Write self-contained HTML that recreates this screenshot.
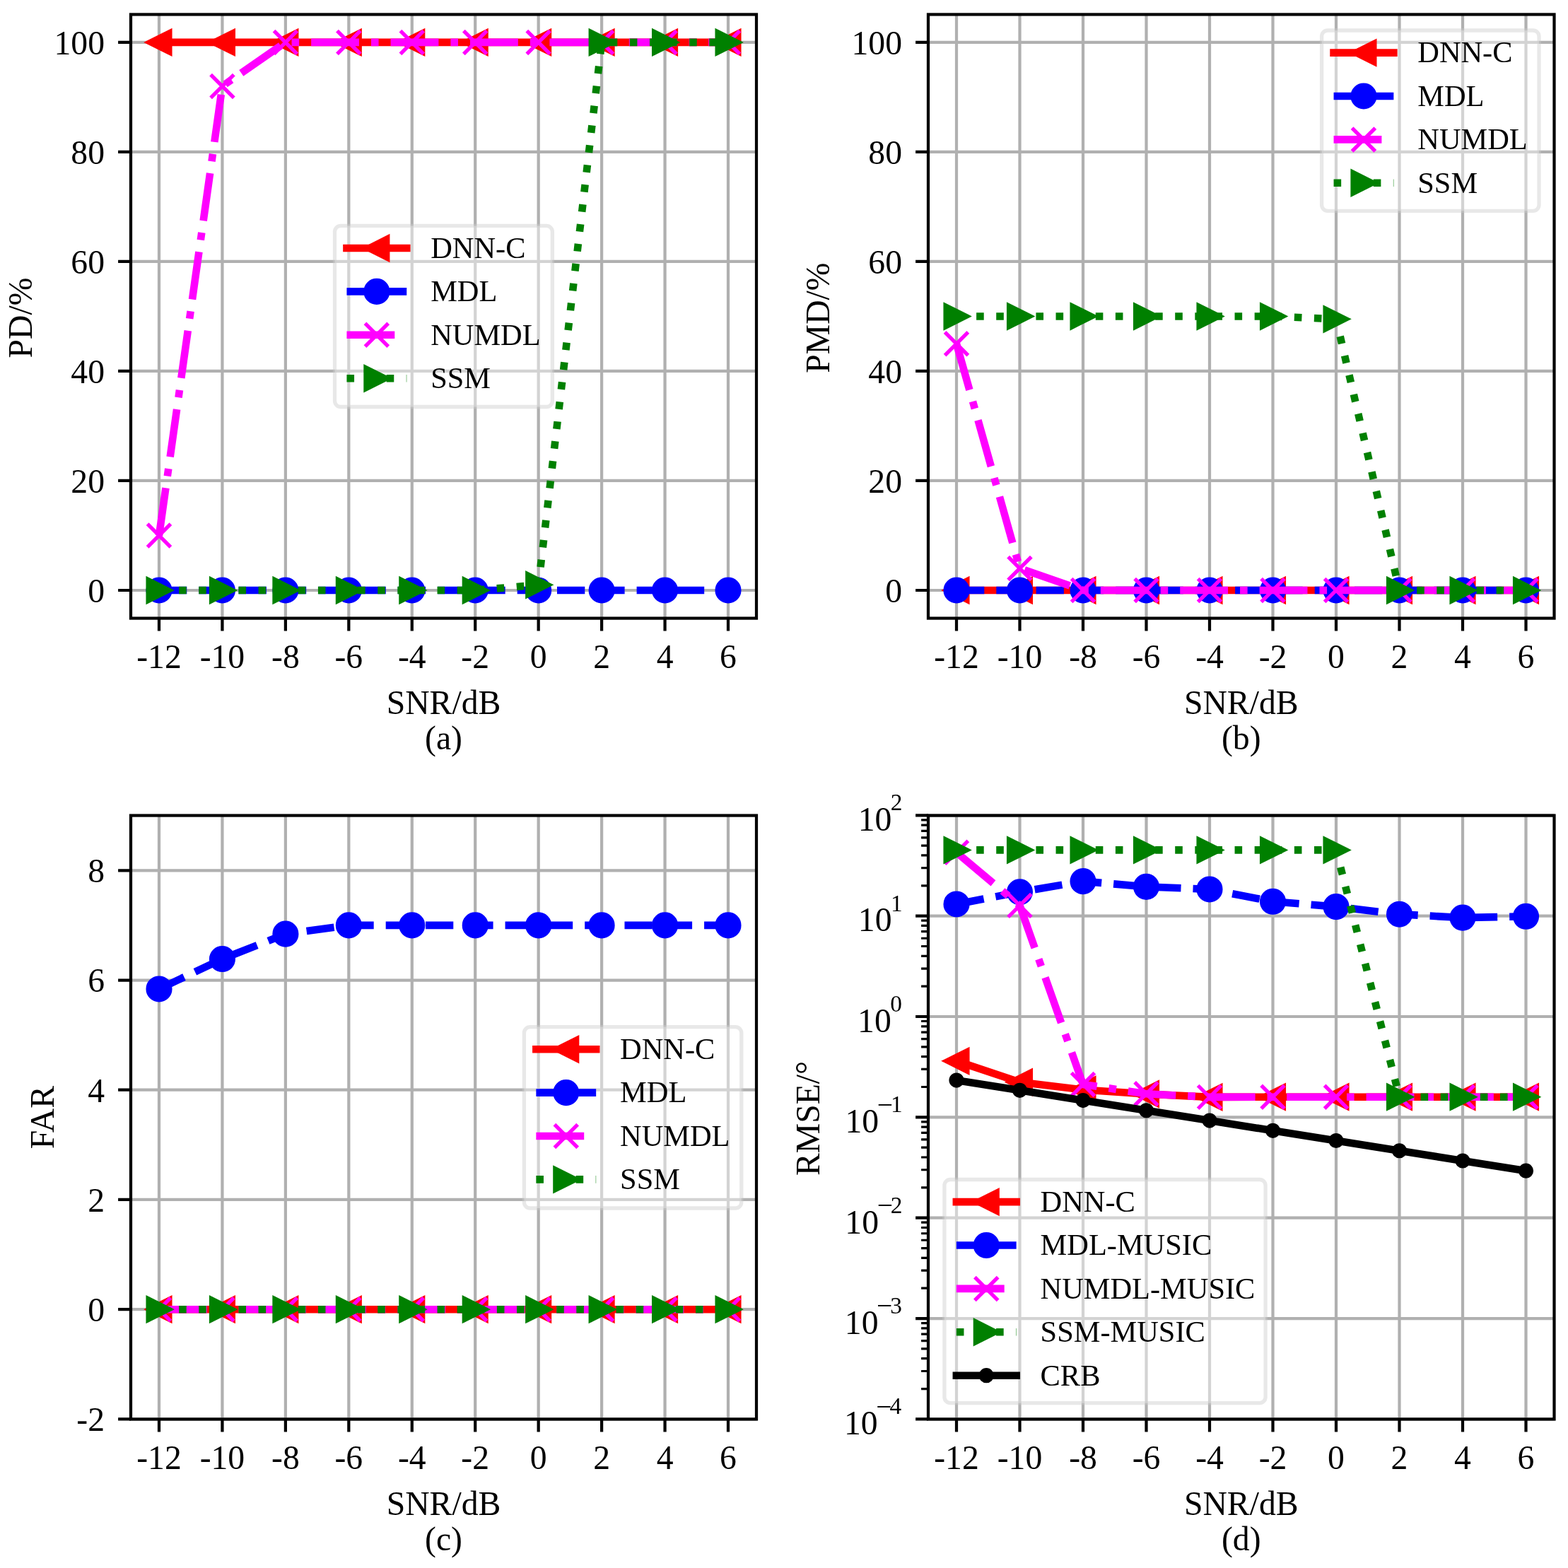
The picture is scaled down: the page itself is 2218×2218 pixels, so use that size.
<!DOCTYPE html>
<html><head><meta charset="utf-8"><title>Figure</title>
<style>html,body{margin:0;padding:0;background:#fff;}svg{display:block;}</style>
</head><body>
<svg width="2218" height="2218" viewBox="0 0 2218 2218" font-family='"Liberation Serif", "Times New Roman", serif'>
<rect width="2218" height="2218" fill="#fff"/>
<clipPath id="ca"><rect x="185" y="20.45" width="885" height="854.1"/></clipPath>
<path d="M225 20.45V874.55M314.44 20.45V874.55M403.89 20.45V874.55M493.33 20.45V874.55M582.78 20.45V874.55M672.22 20.45V874.55M761.67 20.45V874.55M851.11 20.45V874.55M940.56 20.45V874.55M1030 20.45V874.55M185 835H1070M185 679.98H1070M185 524.96H1070M185 369.94H1070M185 214.92H1070M185 59.9H1070" stroke="#b0b0b0" stroke-width="4.24" fill="none"/>
<path d="M225 874.55v17.9M314.44 874.55v17.9M403.89 874.55v17.9M493.33 874.55v17.9M582.78 874.55v17.9M672.22 874.55v17.9M761.67 874.55v17.9M851.11 874.55v17.9M940.56 874.55v17.9M1030 874.55v17.9M185 835h-17.9M185 679.98h-17.9M185 524.96h-17.9M185 369.94h-17.9M185 214.92h-17.9M185 59.9h-17.9" stroke="#000" stroke-width="4.24" fill="none"/>
<polyline points="225,59.9 314.44,59.9 403.89,59.9 493.33,59.9 582.78,59.9 672.22,59.9 761.67,59.9 851.11,59.9 940.56,59.9 1030,59.9" fill="none" stroke="#ff0000" stroke-width="10.6" stroke-linejoin="round" stroke-linecap="square" clip-path="url(#ca)"/>
<g clip-path="url(#ca)">
<polygon points="209.1,59.9 240.9,44 240.9,75.8" fill="#ff0000" stroke="#ff0000" stroke-width="5.3" stroke-linejoin="miter" stroke-miterlimit="10"/>
<polygon points="298.54,59.9 330.34,44 330.34,75.8" fill="#ff0000" stroke="#ff0000" stroke-width="5.3" stroke-linejoin="miter" stroke-miterlimit="10"/>
<polygon points="387.99,59.9 419.79,44 419.79,75.8" fill="#ff0000" stroke="#ff0000" stroke-width="5.3" stroke-linejoin="miter" stroke-miterlimit="10"/>
<polygon points="477.43,59.9 509.23,44 509.23,75.8" fill="#ff0000" stroke="#ff0000" stroke-width="5.3" stroke-linejoin="miter" stroke-miterlimit="10"/>
<polygon points="566.88,59.9 598.68,44 598.68,75.8" fill="#ff0000" stroke="#ff0000" stroke-width="5.3" stroke-linejoin="miter" stroke-miterlimit="10"/>
<polygon points="656.32,59.9 688.12,44 688.12,75.8" fill="#ff0000" stroke="#ff0000" stroke-width="5.3" stroke-linejoin="miter" stroke-miterlimit="10"/>
<polygon points="745.77,59.9 777.57,44 777.57,75.8" fill="#ff0000" stroke="#ff0000" stroke-width="5.3" stroke-linejoin="miter" stroke-miterlimit="10"/>
<polygon points="835.21,59.9 867.01,44 867.01,75.8" fill="#ff0000" stroke="#ff0000" stroke-width="5.3" stroke-linejoin="miter" stroke-miterlimit="10"/>
<polygon points="924.66,59.9 956.46,44 956.46,75.8" fill="#ff0000" stroke="#ff0000" stroke-width="5.3" stroke-linejoin="miter" stroke-miterlimit="10"/>
<polygon points="1014.1,59.9 1045.9,44 1045.9,75.8" fill="#ff0000" stroke="#ff0000" stroke-width="5.3" stroke-linejoin="miter" stroke-miterlimit="10"/>
</g>
<polyline points="225,835 314.44,835 403.89,835 493.33,835 582.78,835 672.22,835 761.67,835 851.11,835 940.56,835 1030,835" fill="none" stroke="#0000ff" stroke-width="10.6" stroke-linejoin="round" stroke-linecap="butt" stroke-dasharray="39.3,17" clip-path="url(#ca)"/>
<g clip-path="url(#ca)">
<circle cx="225" cy="835" r="15.9" fill="#0000ff" stroke="#0000ff" stroke-width="5.3"/>
<circle cx="314.44" cy="835" r="15.9" fill="#0000ff" stroke="#0000ff" stroke-width="5.3"/>
<circle cx="403.89" cy="835" r="15.9" fill="#0000ff" stroke="#0000ff" stroke-width="5.3"/>
<circle cx="493.33" cy="835" r="15.9" fill="#0000ff" stroke="#0000ff" stroke-width="5.3"/>
<circle cx="582.78" cy="835" r="15.9" fill="#0000ff" stroke="#0000ff" stroke-width="5.3"/>
<circle cx="672.22" cy="835" r="15.9" fill="#0000ff" stroke="#0000ff" stroke-width="5.3"/>
<circle cx="761.67" cy="835" r="15.9" fill="#0000ff" stroke="#0000ff" stroke-width="5.3"/>
<circle cx="851.11" cy="835" r="15.9" fill="#0000ff" stroke="#0000ff" stroke-width="5.3"/>
<circle cx="940.56" cy="835" r="15.9" fill="#0000ff" stroke="#0000ff" stroke-width="5.3"/>
<circle cx="1030" cy="835" r="15.9" fill="#0000ff" stroke="#0000ff" stroke-width="5.3"/>
</g>
<polyline points="225,757.49 314.44,121.91 403.89,59.9 493.33,59.9 582.78,59.9 672.22,59.9 761.67,59.9 851.11,59.9 940.56,59.9 1030,59.9" fill="none" stroke="#ff00ff" stroke-width="10.6" stroke-linejoin="round" stroke-linecap="butt" stroke-dasharray="67.84,16.99,10.6,16.99" clip-path="url(#ca)"/>
<g clip-path="url(#ca)">
<path d="M208.62 741.11L241.38 773.87M208.62 773.87L241.38 741.11" stroke="#ff00ff" stroke-width="5.3" stroke-linecap="butt" fill="none"/>
<path d="M298.07 105.53L330.82 138.29M298.07 138.29L330.82 105.53" stroke="#ff00ff" stroke-width="5.3" stroke-linecap="butt" fill="none"/>
<path d="M387.51 43.52L420.27 76.28M387.51 76.28L420.27 43.52" stroke="#ff00ff" stroke-width="5.3" stroke-linecap="butt" fill="none"/>
<path d="M476.96 43.52L509.71 76.28M476.96 76.28L509.71 43.52" stroke="#ff00ff" stroke-width="5.3" stroke-linecap="butt" fill="none"/>
<path d="M566.4 43.52L599.15 76.28M566.4 76.28L599.15 43.52" stroke="#ff00ff" stroke-width="5.3" stroke-linecap="butt" fill="none"/>
<path d="M655.85 43.52L688.6 76.28M655.85 76.28L688.6 43.52" stroke="#ff00ff" stroke-width="5.3" stroke-linecap="butt" fill="none"/>
<path d="M745.29 43.52L778.04 76.28M745.29 76.28L778.04 43.52" stroke="#ff00ff" stroke-width="5.3" stroke-linecap="butt" fill="none"/>
<path d="M834.73 43.52L867.49 76.28M834.73 76.28L867.49 43.52" stroke="#ff00ff" stroke-width="5.3" stroke-linecap="butt" fill="none"/>
<path d="M924.18 43.52L956.93 76.28M924.18 76.28L956.93 43.52" stroke="#ff00ff" stroke-width="5.3" stroke-linecap="butt" fill="none"/>
<path d="M1013.62 43.52L1046.38 76.28M1013.62 76.28L1046.38 43.52" stroke="#ff00ff" stroke-width="5.3" stroke-linecap="butt" fill="none"/>
</g>
<polyline points="225,835 314.44,835 403.89,835 493.33,835 582.78,835 672.22,835 761.67,827.25 851.11,59.9 940.56,59.9 1030,59.9" fill="none" stroke="#008000" stroke-width="10.6" stroke-linejoin="round" stroke-linecap="butt" stroke-dasharray="10.6,17.51" clip-path="url(#ca)"/>
<g clip-path="url(#ca)">
<polygon points="240.9,835 209.1,819.1 209.1,850.9" fill="#008000" stroke="#008000" stroke-width="5.3" stroke-linejoin="miter" stroke-miterlimit="10"/>
<polygon points="330.34,835 298.54,819.1 298.54,850.9" fill="#008000" stroke="#008000" stroke-width="5.3" stroke-linejoin="miter" stroke-miterlimit="10"/>
<polygon points="419.79,835 387.99,819.1 387.99,850.9" fill="#008000" stroke="#008000" stroke-width="5.3" stroke-linejoin="miter" stroke-miterlimit="10"/>
<polygon points="509.23,835 477.43,819.1 477.43,850.9" fill="#008000" stroke="#008000" stroke-width="5.3" stroke-linejoin="miter" stroke-miterlimit="10"/>
<polygon points="598.68,835 566.88,819.1 566.88,850.9" fill="#008000" stroke="#008000" stroke-width="5.3" stroke-linejoin="miter" stroke-miterlimit="10"/>
<polygon points="688.12,835 656.32,819.1 656.32,850.9" fill="#008000" stroke="#008000" stroke-width="5.3" stroke-linejoin="miter" stroke-miterlimit="10"/>
<polygon points="777.57,827.25 745.77,811.35 745.77,843.15" fill="#008000" stroke="#008000" stroke-width="5.3" stroke-linejoin="miter" stroke-miterlimit="10"/>
<polygon points="867.01,59.9 835.21,44 835.21,75.8" fill="#008000" stroke="#008000" stroke-width="5.3" stroke-linejoin="miter" stroke-miterlimit="10"/>
<polygon points="956.46,59.9 924.66,44 924.66,75.8" fill="#008000" stroke="#008000" stroke-width="5.3" stroke-linejoin="miter" stroke-miterlimit="10"/>
<polygon points="1045.9,59.9 1014.1,44 1014.1,75.8" fill="#008000" stroke="#008000" stroke-width="5.3" stroke-linejoin="miter" stroke-miterlimit="10"/>
</g>
<rect x="185" y="20.45" width="885" height="854.1" fill="none" stroke="#000" stroke-width="4.24" stroke-linejoin="miter"/>
<text x="225" y="945.15" font-size="47.7" text-anchor="middle">-12</text>
<text x="314.44" y="945.15" font-size="47.7" text-anchor="middle">-10</text>
<text x="403.89" y="945.15" font-size="47.7" text-anchor="middle">-8</text>
<text x="493.33" y="945.15" font-size="47.7" text-anchor="middle">-6</text>
<text x="582.78" y="945.15" font-size="47.7" text-anchor="middle">-4</text>
<text x="672.22" y="945.15" font-size="47.7" text-anchor="middle">-2</text>
<text x="761.67" y="945.15" font-size="47.7" text-anchor="middle">0</text>
<text x="851.11" y="945.15" font-size="47.7" text-anchor="middle">2</text>
<text x="940.56" y="945.15" font-size="47.7" text-anchor="middle">4</text>
<text x="1030" y="945.15" font-size="47.7" text-anchor="middle">6</text>
<text x="148" y="851.9" font-size="47.7" text-anchor="end">0</text>
<text x="148" y="696.88" font-size="47.7" text-anchor="end">20</text>
<text x="148" y="541.86" font-size="47.7" text-anchor="end">40</text>
<text x="148" y="386.84" font-size="47.7" text-anchor="end">60</text>
<text x="148" y="231.82" font-size="47.7" text-anchor="end">80</text>
<text x="148" y="76.8" font-size="47.7" text-anchor="end">100</text>
<text x="627.5" y="1010.25" font-size="47.7" text-anchor="middle">SNR/dB</text>
<text x="627.5" y="1059.85" font-size="47.7" text-anchor="middle">(a)</text>
<text x="45.1" y="449.6" font-size="47.7" text-anchor="middle" transform="rotate(-90 45.1 449.6)">PD/%</text>
<rect x="473.5" y="319.4" width="307.9" height="256.1" rx="8.48" ry="8.48" fill="#fff" fill-opacity="0.45" stroke="#ccc" stroke-opacity="0.45" stroke-width="5.3"/>
<polyline points="490.46,351 575.26,351" fill="none" stroke="#ff0000" stroke-width="10.6" stroke-linejoin="round" stroke-linecap="square"/>
<polygon points="516.96,351 548.76,335.1 548.76,366.9" fill="#ff0000" stroke="#ff0000" stroke-width="5.3" stroke-linejoin="miter" stroke-miterlimit="10"/>
<text x="609.18" y="364.8" font-size="42.4" text-anchor="start">DNN-C</text>
<polyline points="490.46,412.4 575.26,412.4" fill="none" stroke="#0000ff" stroke-width="10.6" stroke-linejoin="round" stroke-linecap="butt" stroke-dasharray="39.3,17"/>
<circle cx="532.86" cy="412.4" r="15.9" fill="#0000ff" stroke="#0000ff" stroke-width="5.3"/>
<text x="609.18" y="426.2" font-size="42.4" text-anchor="start">MDL</text>
<polyline points="490.46,473.8 575.26,473.8" fill="none" stroke="#ff00ff" stroke-width="10.6" stroke-linejoin="round" stroke-linecap="butt" stroke-dasharray="67.84,16.99,10.6,16.99"/>
<path d="M516.48 457.42L549.24 490.18M516.48 490.18L549.24 457.42" stroke="#ff00ff" stroke-width="5.3" stroke-linecap="butt" fill="none"/>
<text x="609.18" y="487.6" font-size="42.4" text-anchor="start">NUMDL</text>
<polyline points="490.46,535.2 575.26,535.2" fill="none" stroke="#008000" stroke-width="10.6" stroke-linejoin="round" stroke-linecap="butt" stroke-dasharray="10.6,17.51"/>
<polygon points="548.76,535.2 516.96,519.3 516.96,551.1" fill="#008000" stroke="#008000" stroke-width="5.3" stroke-linejoin="miter" stroke-miterlimit="10"/>
<text x="609.18" y="549" font-size="42.4" text-anchor="start">SSM</text>
<clipPath id="cb"><rect x="1313" y="20.45" width="885.5" height="854.1"/></clipPath>
<path d="M1353 20.45V874.55M1442.5 20.45V874.55M1532 20.45V874.55M1621.5 20.45V874.55M1711 20.45V874.55M1800.5 20.45V874.55M1890 20.45V874.55M1979.5 20.45V874.55M2069 20.45V874.55M2158.5 20.45V874.55M1313 835H2198.5M1313 679.98H2198.5M1313 524.96H2198.5M1313 369.94H2198.5M1313 214.92H2198.5M1313 59.9H2198.5" stroke="#b0b0b0" stroke-width="4.24" fill="none"/>
<path d="M1353 874.55v17.9M1442.5 874.55v17.9M1532 874.55v17.9M1621.5 874.55v17.9M1711 874.55v17.9M1800.5 874.55v17.9M1890 874.55v17.9M1979.5 874.55v17.9M2069 874.55v17.9M2158.5 874.55v17.9M1313 835h-17.9M1313 679.98h-17.9M1313 524.96h-17.9M1313 369.94h-17.9M1313 214.92h-17.9M1313 59.9h-17.9" stroke="#000" stroke-width="4.24" fill="none"/>
<polyline points="1353,835 1442.5,835 1532,835 1621.5,835 1711,835 1800.5,835 1890,835 1979.5,835 2069,835 2158.5,835" fill="none" stroke="#ff0000" stroke-width="10.6" stroke-linejoin="round" stroke-linecap="square" clip-path="url(#cb)"/>
<g clip-path="url(#cb)">
<polygon points="1337.1,835 1368.9,819.1 1368.9,850.9" fill="#ff0000" stroke="#ff0000" stroke-width="5.3" stroke-linejoin="miter" stroke-miterlimit="10"/>
<polygon points="1426.6,835 1458.4,819.1 1458.4,850.9" fill="#ff0000" stroke="#ff0000" stroke-width="5.3" stroke-linejoin="miter" stroke-miterlimit="10"/>
<polygon points="1516.1,835 1547.9,819.1 1547.9,850.9" fill="#ff0000" stroke="#ff0000" stroke-width="5.3" stroke-linejoin="miter" stroke-miterlimit="10"/>
<polygon points="1605.6,835 1637.4,819.1 1637.4,850.9" fill="#ff0000" stroke="#ff0000" stroke-width="5.3" stroke-linejoin="miter" stroke-miterlimit="10"/>
<polygon points="1695.1,835 1726.9,819.1 1726.9,850.9" fill="#ff0000" stroke="#ff0000" stroke-width="5.3" stroke-linejoin="miter" stroke-miterlimit="10"/>
<polygon points="1784.6,835 1816.4,819.1 1816.4,850.9" fill="#ff0000" stroke="#ff0000" stroke-width="5.3" stroke-linejoin="miter" stroke-miterlimit="10"/>
<polygon points="1874.1,835 1905.9,819.1 1905.9,850.9" fill="#ff0000" stroke="#ff0000" stroke-width="5.3" stroke-linejoin="miter" stroke-miterlimit="10"/>
<polygon points="1963.6,835 1995.4,819.1 1995.4,850.9" fill="#ff0000" stroke="#ff0000" stroke-width="5.3" stroke-linejoin="miter" stroke-miterlimit="10"/>
<polygon points="2053.1,835 2084.9,819.1 2084.9,850.9" fill="#ff0000" stroke="#ff0000" stroke-width="5.3" stroke-linejoin="miter" stroke-miterlimit="10"/>
<polygon points="2142.6,835 2174.4,819.1 2174.4,850.9" fill="#ff0000" stroke="#ff0000" stroke-width="5.3" stroke-linejoin="miter" stroke-miterlimit="10"/>
</g>
<polyline points="1353,835 1442.5,835 1532,835 1621.5,835 1711,835 1800.5,835 1890,835 1979.5,835 2069,835 2158.5,835" fill="none" stroke="#0000ff" stroke-width="10.6" stroke-linejoin="round" stroke-linecap="butt" stroke-dasharray="39.3,17" clip-path="url(#cb)"/>
<g clip-path="url(#cb)">
<circle cx="1353" cy="835" r="15.9" fill="#0000ff" stroke="#0000ff" stroke-width="5.3"/>
<circle cx="1442.5" cy="835" r="15.9" fill="#0000ff" stroke="#0000ff" stroke-width="5.3"/>
<circle cx="1532" cy="835" r="15.9" fill="#0000ff" stroke="#0000ff" stroke-width="5.3"/>
<circle cx="1621.5" cy="835" r="15.9" fill="#0000ff" stroke="#0000ff" stroke-width="5.3"/>
<circle cx="1711" cy="835" r="15.9" fill="#0000ff" stroke="#0000ff" stroke-width="5.3"/>
<circle cx="1800.5" cy="835" r="15.9" fill="#0000ff" stroke="#0000ff" stroke-width="5.3"/>
<circle cx="1890" cy="835" r="15.9" fill="#0000ff" stroke="#0000ff" stroke-width="5.3"/>
<circle cx="1979.5" cy="835" r="15.9" fill="#0000ff" stroke="#0000ff" stroke-width="5.3"/>
<circle cx="2069" cy="835" r="15.9" fill="#0000ff" stroke="#0000ff" stroke-width="5.3"/>
<circle cx="2158.5" cy="835" r="15.9" fill="#0000ff" stroke="#0000ff" stroke-width="5.3"/>
</g>
<polyline points="1353,486.2 1442.5,804 1532,835 1621.5,835 1711,835 1800.5,835 1890,835 1979.5,835 2069,835 2158.5,835" fill="none" stroke="#ff00ff" stroke-width="10.6" stroke-linejoin="round" stroke-linecap="butt" stroke-dasharray="67.84,16.99,10.6,16.99" clip-path="url(#cb)"/>
<g clip-path="url(#cb)">
<path d="M1336.62 469.83L1369.38 502.58M1336.62 502.58L1369.38 469.83" stroke="#ff00ff" stroke-width="5.3" stroke-linecap="butt" fill="none"/>
<path d="M1426.12 787.62L1458.88 820.37M1426.12 820.37L1458.88 787.62" stroke="#ff00ff" stroke-width="5.3" stroke-linecap="butt" fill="none"/>
<path d="M1515.62 818.62L1548.38 851.38M1515.62 851.38L1548.38 818.62" stroke="#ff00ff" stroke-width="5.3" stroke-linecap="butt" fill="none"/>
<path d="M1605.12 818.62L1637.88 851.38M1605.12 851.38L1637.88 818.62" stroke="#ff00ff" stroke-width="5.3" stroke-linecap="butt" fill="none"/>
<path d="M1694.62 818.62L1727.38 851.38M1694.62 851.38L1727.38 818.62" stroke="#ff00ff" stroke-width="5.3" stroke-linecap="butt" fill="none"/>
<path d="M1784.12 818.62L1816.88 851.38M1784.12 851.38L1816.88 818.62" stroke="#ff00ff" stroke-width="5.3" stroke-linecap="butt" fill="none"/>
<path d="M1873.62 818.62L1906.38 851.38M1873.62 851.38L1906.38 818.62" stroke="#ff00ff" stroke-width="5.3" stroke-linecap="butt" fill="none"/>
<path d="M1963.12 818.62L1995.88 851.38M1963.12 851.38L1995.88 818.62" stroke="#ff00ff" stroke-width="5.3" stroke-linecap="butt" fill="none"/>
<path d="M2052.62 818.62L2085.38 851.38M2052.62 851.38L2085.38 818.62" stroke="#ff00ff" stroke-width="5.3" stroke-linecap="butt" fill="none"/>
<path d="M2142.12 818.62L2174.88 851.38M2142.12 851.38L2174.88 818.62" stroke="#ff00ff" stroke-width="5.3" stroke-linecap="butt" fill="none"/>
</g>
<polyline points="1353,447.45 1442.5,447.45 1532,447.45 1621.5,447.45 1711,447.45 1800.5,447.45 1890,451.33 1979.5,835 2069,835 2158.5,835" fill="none" stroke="#008000" stroke-width="10.6" stroke-linejoin="round" stroke-linecap="butt" stroke-dasharray="10.6,17.51" clip-path="url(#cb)"/>
<g clip-path="url(#cb)">
<polygon points="1368.9,447.45 1337.1,431.55 1337.1,463.35" fill="#008000" stroke="#008000" stroke-width="5.3" stroke-linejoin="miter" stroke-miterlimit="10"/>
<polygon points="1458.4,447.45 1426.6,431.55 1426.6,463.35" fill="#008000" stroke="#008000" stroke-width="5.3" stroke-linejoin="miter" stroke-miterlimit="10"/>
<polygon points="1547.9,447.45 1516.1,431.55 1516.1,463.35" fill="#008000" stroke="#008000" stroke-width="5.3" stroke-linejoin="miter" stroke-miterlimit="10"/>
<polygon points="1637.4,447.45 1605.6,431.55 1605.6,463.35" fill="#008000" stroke="#008000" stroke-width="5.3" stroke-linejoin="miter" stroke-miterlimit="10"/>
<polygon points="1726.9,447.45 1695.1,431.55 1695.1,463.35" fill="#008000" stroke="#008000" stroke-width="5.3" stroke-linejoin="miter" stroke-miterlimit="10"/>
<polygon points="1816.4,447.45 1784.6,431.55 1784.6,463.35" fill="#008000" stroke="#008000" stroke-width="5.3" stroke-linejoin="miter" stroke-miterlimit="10"/>
<polygon points="1905.9,451.33 1874.1,435.43 1874.1,467.23" fill="#008000" stroke="#008000" stroke-width="5.3" stroke-linejoin="miter" stroke-miterlimit="10"/>
<polygon points="1995.4,835 1963.6,819.1 1963.6,850.9" fill="#008000" stroke="#008000" stroke-width="5.3" stroke-linejoin="miter" stroke-miterlimit="10"/>
<polygon points="2084.9,835 2053.1,819.1 2053.1,850.9" fill="#008000" stroke="#008000" stroke-width="5.3" stroke-linejoin="miter" stroke-miterlimit="10"/>
<polygon points="2174.4,835 2142.6,819.1 2142.6,850.9" fill="#008000" stroke="#008000" stroke-width="5.3" stroke-linejoin="miter" stroke-miterlimit="10"/>
</g>
<rect x="1313" y="20.45" width="885.5" height="854.1" fill="none" stroke="#000" stroke-width="4.24" stroke-linejoin="miter"/>
<text x="1353" y="945.15" font-size="47.7" text-anchor="middle">-12</text>
<text x="1442.5" y="945.15" font-size="47.7" text-anchor="middle">-10</text>
<text x="1532" y="945.15" font-size="47.7" text-anchor="middle">-8</text>
<text x="1621.5" y="945.15" font-size="47.7" text-anchor="middle">-6</text>
<text x="1711" y="945.15" font-size="47.7" text-anchor="middle">-4</text>
<text x="1800.5" y="945.15" font-size="47.7" text-anchor="middle">-2</text>
<text x="1890" y="945.15" font-size="47.7" text-anchor="middle">0</text>
<text x="1979.5" y="945.15" font-size="47.7" text-anchor="middle">2</text>
<text x="2069" y="945.15" font-size="47.7" text-anchor="middle">4</text>
<text x="2158.5" y="945.15" font-size="47.7" text-anchor="middle">6</text>
<text x="1276" y="851.9" font-size="47.7" text-anchor="end">0</text>
<text x="1276" y="696.88" font-size="47.7" text-anchor="end">20</text>
<text x="1276" y="541.86" font-size="47.7" text-anchor="end">40</text>
<text x="1276" y="386.84" font-size="47.7" text-anchor="end">60</text>
<text x="1276" y="231.82" font-size="47.7" text-anchor="end">80</text>
<text x="1276" y="76.8" font-size="47.7" text-anchor="end">100</text>
<text x="1755.75" y="1010.25" font-size="47.7" text-anchor="middle">SNR/dB</text>
<text x="1755.75" y="1059.85" font-size="47.7" text-anchor="middle">(b)</text>
<text x="1173.1" y="449.6" font-size="47.7" text-anchor="middle" transform="rotate(-90 1173.1 449.6)">PMD/%</text>
<rect x="1869.6" y="43" width="307.4" height="255.3" rx="8.48" ry="8.48" fill="#fff" fill-opacity="0.45" stroke="#ccc" stroke-opacity="0.45" stroke-width="5.3"/>
<polyline points="1886.56,74.6 1971.36,74.6" fill="none" stroke="#ff0000" stroke-width="10.6" stroke-linejoin="round" stroke-linecap="square"/>
<polygon points="1913.06,74.6 1944.86,58.7 1944.86,90.5" fill="#ff0000" stroke="#ff0000" stroke-width="5.3" stroke-linejoin="miter" stroke-miterlimit="10"/>
<text x="2005.28" y="88.4" font-size="42.4" text-anchor="start">DNN-C</text>
<polyline points="1886.56,136 1971.36,136" fill="none" stroke="#0000ff" stroke-width="10.6" stroke-linejoin="round" stroke-linecap="butt" stroke-dasharray="39.3,17"/>
<circle cx="1928.96" cy="136" r="15.9" fill="#0000ff" stroke="#0000ff" stroke-width="5.3"/>
<text x="2005.28" y="149.8" font-size="42.4" text-anchor="start">MDL</text>
<polyline points="1886.56,197.4 1971.36,197.4" fill="none" stroke="#ff00ff" stroke-width="10.6" stroke-linejoin="round" stroke-linecap="butt" stroke-dasharray="67.84,16.99,10.6,16.99"/>
<path d="M1912.58 181.02L1945.34 213.78M1912.58 213.78L1945.34 181.02" stroke="#ff00ff" stroke-width="5.3" stroke-linecap="butt" fill="none"/>
<text x="2005.28" y="211.2" font-size="42.4" text-anchor="start">NUMDL</text>
<polyline points="1886.56,258.8 1971.36,258.8" fill="none" stroke="#008000" stroke-width="10.6" stroke-linejoin="round" stroke-linecap="butt" stroke-dasharray="10.6,17.51"/>
<polygon points="1944.86,258.8 1913.06,242.9 1913.06,274.7" fill="#008000" stroke="#008000" stroke-width="5.3" stroke-linejoin="miter" stroke-miterlimit="10"/>
<text x="2005.28" y="272.6" font-size="42.4" text-anchor="start">SSM</text>
<clipPath id="cc"><rect x="185" y="1153.55" width="885" height="853.95"/></clipPath>
<path d="M225 1153.55V2007.5M314.44 1153.55V2007.5M403.89 1153.55V2007.5M493.33 1153.55V2007.5M582.78 1153.55V2007.5M672.22 1153.55V2007.5M761.67 1153.55V2007.5M851.11 1153.55V2007.5M940.56 1153.55V2007.5M1030 1153.55V2007.5M185 2007.4H1070M185 1852.18H1070M185 1696.96H1070M185 1541.74H1070M185 1386.52H1070M185 1231.3H1070" stroke="#b0b0b0" stroke-width="4.24" fill="none"/>
<path d="M225 2007.5v17.9M314.44 2007.5v17.9M403.89 2007.5v17.9M493.33 2007.5v17.9M582.78 2007.5v17.9M672.22 2007.5v17.9M761.67 2007.5v17.9M851.11 2007.5v17.9M940.56 2007.5v17.9M1030 2007.5v17.9M185 2007.4h-17.9M185 1852.18h-17.9M185 1696.96h-17.9M185 1541.74h-17.9M185 1386.52h-17.9M185 1231.3h-17.9" stroke="#000" stroke-width="4.24" fill="none"/>
<polyline points="225,1852.18 314.44,1852.18 403.89,1852.18 493.33,1852.18 582.78,1852.18 672.22,1852.18 761.67,1852.18 851.11,1852.18 940.56,1852.18 1030,1852.18" fill="none" stroke="#ff0000" stroke-width="10.6" stroke-linejoin="round" stroke-linecap="square" clip-path="url(#cc)"/>
<g clip-path="url(#cc)">
<polygon points="209.1,1852.18 240.9,1836.28 240.9,1868.08" fill="#ff0000" stroke="#ff0000" stroke-width="5.3" stroke-linejoin="miter" stroke-miterlimit="10"/>
<polygon points="298.54,1852.18 330.34,1836.28 330.34,1868.08" fill="#ff0000" stroke="#ff0000" stroke-width="5.3" stroke-linejoin="miter" stroke-miterlimit="10"/>
<polygon points="387.99,1852.18 419.79,1836.28 419.79,1868.08" fill="#ff0000" stroke="#ff0000" stroke-width="5.3" stroke-linejoin="miter" stroke-miterlimit="10"/>
<polygon points="477.43,1852.18 509.23,1836.28 509.23,1868.08" fill="#ff0000" stroke="#ff0000" stroke-width="5.3" stroke-linejoin="miter" stroke-miterlimit="10"/>
<polygon points="566.88,1852.18 598.68,1836.28 598.68,1868.08" fill="#ff0000" stroke="#ff0000" stroke-width="5.3" stroke-linejoin="miter" stroke-miterlimit="10"/>
<polygon points="656.32,1852.18 688.12,1836.28 688.12,1868.08" fill="#ff0000" stroke="#ff0000" stroke-width="5.3" stroke-linejoin="miter" stroke-miterlimit="10"/>
<polygon points="745.77,1852.18 777.57,1836.28 777.57,1868.08" fill="#ff0000" stroke="#ff0000" stroke-width="5.3" stroke-linejoin="miter" stroke-miterlimit="10"/>
<polygon points="835.21,1852.18 867.01,1836.28 867.01,1868.08" fill="#ff0000" stroke="#ff0000" stroke-width="5.3" stroke-linejoin="miter" stroke-miterlimit="10"/>
<polygon points="924.66,1852.18 956.46,1836.28 956.46,1868.08" fill="#ff0000" stroke="#ff0000" stroke-width="5.3" stroke-linejoin="miter" stroke-miterlimit="10"/>
<polygon points="1014.1,1852.18 1045.9,1836.28 1045.9,1868.08" fill="#ff0000" stroke="#ff0000" stroke-width="5.3" stroke-linejoin="miter" stroke-miterlimit="10"/>
</g>
<polyline points="225,1398.94 314.44,1356.56 403.89,1321.17 493.33,1308.91 582.78,1308.91 672.22,1308.91 761.67,1308.91 851.11,1308.91 940.56,1308.91 1030,1308.91" fill="none" stroke="#0000ff" stroke-width="10.6" stroke-linejoin="round" stroke-linecap="butt" stroke-dasharray="39.3,17" clip-path="url(#cc)"/>
<g clip-path="url(#cc)">
<circle cx="225" cy="1398.94" r="15.9" fill="#0000ff" stroke="#0000ff" stroke-width="5.3"/>
<circle cx="314.44" cy="1356.56" r="15.9" fill="#0000ff" stroke="#0000ff" stroke-width="5.3"/>
<circle cx="403.89" cy="1321.17" r="15.9" fill="#0000ff" stroke="#0000ff" stroke-width="5.3"/>
<circle cx="493.33" cy="1308.91" r="15.9" fill="#0000ff" stroke="#0000ff" stroke-width="5.3"/>
<circle cx="582.78" cy="1308.91" r="15.9" fill="#0000ff" stroke="#0000ff" stroke-width="5.3"/>
<circle cx="672.22" cy="1308.91" r="15.9" fill="#0000ff" stroke="#0000ff" stroke-width="5.3"/>
<circle cx="761.67" cy="1308.91" r="15.9" fill="#0000ff" stroke="#0000ff" stroke-width="5.3"/>
<circle cx="851.11" cy="1308.91" r="15.9" fill="#0000ff" stroke="#0000ff" stroke-width="5.3"/>
<circle cx="940.56" cy="1308.91" r="15.9" fill="#0000ff" stroke="#0000ff" stroke-width="5.3"/>
<circle cx="1030" cy="1308.91" r="15.9" fill="#0000ff" stroke="#0000ff" stroke-width="5.3"/>
</g>
<polyline points="225,1852.18 314.44,1852.18 403.89,1852.18 493.33,1852.18 582.78,1852.18 672.22,1852.18 761.67,1852.18 851.11,1852.18 940.56,1852.18 1030,1852.18" fill="none" stroke="#ff00ff" stroke-width="10.6" stroke-linejoin="round" stroke-linecap="butt" stroke-dasharray="67.84,16.99,10.6,16.99" clip-path="url(#cc)"/>
<g clip-path="url(#cc)">
<path d="M208.62 1835.8L241.38 1868.56M208.62 1868.56L241.38 1835.8" stroke="#ff00ff" stroke-width="5.3" stroke-linecap="butt" fill="none"/>
<path d="M298.07 1835.8L330.82 1868.56M298.07 1868.56L330.82 1835.8" stroke="#ff00ff" stroke-width="5.3" stroke-linecap="butt" fill="none"/>
<path d="M387.51 1835.8L420.27 1868.56M387.51 1868.56L420.27 1835.8" stroke="#ff00ff" stroke-width="5.3" stroke-linecap="butt" fill="none"/>
<path d="M476.96 1835.8L509.71 1868.56M476.96 1868.56L509.71 1835.8" stroke="#ff00ff" stroke-width="5.3" stroke-linecap="butt" fill="none"/>
<path d="M566.4 1835.8L599.15 1868.56M566.4 1868.56L599.15 1835.8" stroke="#ff00ff" stroke-width="5.3" stroke-linecap="butt" fill="none"/>
<path d="M655.85 1835.8L688.6 1868.56M655.85 1868.56L688.6 1835.8" stroke="#ff00ff" stroke-width="5.3" stroke-linecap="butt" fill="none"/>
<path d="M745.29 1835.8L778.04 1868.56M745.29 1868.56L778.04 1835.8" stroke="#ff00ff" stroke-width="5.3" stroke-linecap="butt" fill="none"/>
<path d="M834.73 1835.8L867.49 1868.56M834.73 1868.56L867.49 1835.8" stroke="#ff00ff" stroke-width="5.3" stroke-linecap="butt" fill="none"/>
<path d="M924.18 1835.8L956.93 1868.56M924.18 1868.56L956.93 1835.8" stroke="#ff00ff" stroke-width="5.3" stroke-linecap="butt" fill="none"/>
<path d="M1013.62 1835.8L1046.38 1868.56M1013.62 1868.56L1046.38 1835.8" stroke="#ff00ff" stroke-width="5.3" stroke-linecap="butt" fill="none"/>
</g>
<polyline points="225,1852.18 314.44,1852.18 403.89,1852.18 493.33,1852.18 582.78,1852.18 672.22,1852.18 761.67,1852.18 851.11,1852.18 940.56,1852.18 1030,1852.18" fill="none" stroke="#008000" stroke-width="10.6" stroke-linejoin="round" stroke-linecap="butt" stroke-dasharray="10.6,17.51" clip-path="url(#cc)"/>
<g clip-path="url(#cc)">
<polygon points="240.9,1852.18 209.1,1836.28 209.1,1868.08" fill="#008000" stroke="#008000" stroke-width="5.3" stroke-linejoin="miter" stroke-miterlimit="10"/>
<polygon points="330.34,1852.18 298.54,1836.28 298.54,1868.08" fill="#008000" stroke="#008000" stroke-width="5.3" stroke-linejoin="miter" stroke-miterlimit="10"/>
<polygon points="419.79,1852.18 387.99,1836.28 387.99,1868.08" fill="#008000" stroke="#008000" stroke-width="5.3" stroke-linejoin="miter" stroke-miterlimit="10"/>
<polygon points="509.23,1852.18 477.43,1836.28 477.43,1868.08" fill="#008000" stroke="#008000" stroke-width="5.3" stroke-linejoin="miter" stroke-miterlimit="10"/>
<polygon points="598.68,1852.18 566.88,1836.28 566.88,1868.08" fill="#008000" stroke="#008000" stroke-width="5.3" stroke-linejoin="miter" stroke-miterlimit="10"/>
<polygon points="688.12,1852.18 656.32,1836.28 656.32,1868.08" fill="#008000" stroke="#008000" stroke-width="5.3" stroke-linejoin="miter" stroke-miterlimit="10"/>
<polygon points="777.57,1852.18 745.77,1836.28 745.77,1868.08" fill="#008000" stroke="#008000" stroke-width="5.3" stroke-linejoin="miter" stroke-miterlimit="10"/>
<polygon points="867.01,1852.18 835.21,1836.28 835.21,1868.08" fill="#008000" stroke="#008000" stroke-width="5.3" stroke-linejoin="miter" stroke-miterlimit="10"/>
<polygon points="956.46,1852.18 924.66,1836.28 924.66,1868.08" fill="#008000" stroke="#008000" stroke-width="5.3" stroke-linejoin="miter" stroke-miterlimit="10"/>
<polygon points="1045.9,1852.18 1014.1,1836.28 1014.1,1868.08" fill="#008000" stroke="#008000" stroke-width="5.3" stroke-linejoin="miter" stroke-miterlimit="10"/>
</g>
<rect x="185" y="1153.55" width="885" height="853.95" fill="none" stroke="#000" stroke-width="4.24" stroke-linejoin="miter"/>
<text x="225" y="2078.1" font-size="47.7" text-anchor="middle">-12</text>
<text x="314.44" y="2078.1" font-size="47.7" text-anchor="middle">-10</text>
<text x="403.89" y="2078.1" font-size="47.7" text-anchor="middle">-8</text>
<text x="493.33" y="2078.1" font-size="47.7" text-anchor="middle">-6</text>
<text x="582.78" y="2078.1" font-size="47.7" text-anchor="middle">-4</text>
<text x="672.22" y="2078.1" font-size="47.7" text-anchor="middle">-2</text>
<text x="761.67" y="2078.1" font-size="47.7" text-anchor="middle">0</text>
<text x="851.11" y="2078.1" font-size="47.7" text-anchor="middle">2</text>
<text x="940.56" y="2078.1" font-size="47.7" text-anchor="middle">4</text>
<text x="1030" y="2078.1" font-size="47.7" text-anchor="middle">6</text>
<text x="148" y="2024.3" font-size="47.7" text-anchor="end">-2</text>
<text x="148" y="1869.08" font-size="47.7" text-anchor="end">0</text>
<text x="148" y="1713.86" font-size="47.7" text-anchor="end">2</text>
<text x="148" y="1558.64" font-size="47.7" text-anchor="end">4</text>
<text x="148" y="1403.42" font-size="47.7" text-anchor="end">6</text>
<text x="148" y="1248.2" font-size="47.7" text-anchor="end">8</text>
<text x="627.5" y="2143.2" font-size="47.7" text-anchor="middle">SNR/dB</text>
<text x="627.5" y="2192.8" font-size="47.7" text-anchor="middle">(c)</text>
<text x="76" y="1580.53" font-size="47.7" text-anchor="middle" transform="rotate(-90 76 1580.53)">FAR</text>
<rect x="741.4" y="1452.6" width="307.4" height="256.4" rx="8.48" ry="8.48" fill="#fff" fill-opacity="0.45" stroke="#ccc" stroke-opacity="0.45" stroke-width="5.3"/>
<polyline points="758.36,1484.2 843.16,1484.2" fill="none" stroke="#ff0000" stroke-width="10.6" stroke-linejoin="round" stroke-linecap="square"/>
<polygon points="784.86,1484.2 816.66,1468.3 816.66,1500.1" fill="#ff0000" stroke="#ff0000" stroke-width="5.3" stroke-linejoin="miter" stroke-miterlimit="10"/>
<text x="877.08" y="1498" font-size="42.4" text-anchor="start">DNN-C</text>
<polyline points="758.36,1545.6 843.16,1545.6" fill="none" stroke="#0000ff" stroke-width="10.6" stroke-linejoin="round" stroke-linecap="butt" stroke-dasharray="39.3,17"/>
<circle cx="800.76" cy="1545.6" r="15.9" fill="#0000ff" stroke="#0000ff" stroke-width="5.3"/>
<text x="877.08" y="1559.4" font-size="42.4" text-anchor="start">MDL</text>
<polyline points="758.36,1607 843.16,1607" fill="none" stroke="#ff00ff" stroke-width="10.6" stroke-linejoin="round" stroke-linecap="butt" stroke-dasharray="67.84,16.99,10.6,16.99"/>
<path d="M784.38 1590.62L817.14 1623.38M784.38 1623.38L817.14 1590.62" stroke="#ff00ff" stroke-width="5.3" stroke-linecap="butt" fill="none"/>
<text x="877.08" y="1620.8" font-size="42.4" text-anchor="start">NUMDL</text>
<polyline points="758.36,1668.4 843.16,1668.4" fill="none" stroke="#008000" stroke-width="10.6" stroke-linejoin="round" stroke-linecap="butt" stroke-dasharray="10.6,17.51"/>
<polygon points="816.66,1668.4 784.86,1652.5 784.86,1684.3" fill="#008000" stroke="#008000" stroke-width="5.3" stroke-linejoin="miter" stroke-miterlimit="10"/>
<text x="877.08" y="1682.2" font-size="42.4" text-anchor="start">SSM</text>
<clipPath id="cd"><rect x="1313" y="1153.55" width="885.5" height="853.95"/></clipPath>
<path d="M1353 1153.55V2007.5M1442.5 1153.55V2007.5M1532 1153.55V2007.5M1621.5 1153.55V2007.5M1711 1153.55V2007.5M1800.5 1153.55V2007.5M1890 1153.55V2007.5M1979.5 1153.55V2007.5M2069 1153.55V2007.5M2158.5 1153.55V2007.5M1313 2007.4H2198.5M1313 1865.05H2198.5M1313 1722.7H2198.5M1313 1580.35H2198.5M1313 1438H2198.5M1313 1295.65H2198.5M1313 1153.3H2198.5" stroke="#b0b0b0" stroke-width="4.24" fill="none"/>
<path d="M1353 2007.5v17.9M1442.5 2007.5v17.9M1532 2007.5v17.9M1621.5 2007.5v17.9M1711 2007.5v17.9M1800.5 2007.5v17.9M1890 2007.5v17.9M1979.5 2007.5v17.9M2069 2007.5v17.9M2158.5 2007.5v17.9M1313 2007.4h-17.9M1313 1865.05h-17.9M1313 1722.7h-17.9M1313 1580.35h-17.9M1313 1438h-17.9M1313 1295.65h-17.9M1313 1153.3h-17.9" stroke="#000" stroke-width="4.24" fill="none"/>
<path d="M1313 1964.55h-9.9M1313 1939.48h-9.9M1313 1921.7h-9.9M1313 1907.9h-9.9M1313 1896.63h-9.9M1313 1887.1h-9.9M1313 1878.85h-9.9M1313 1871.56h-9.9M1313 1822.2h-9.9M1313 1797.13h-9.9M1313 1779.35h-9.9M1313 1765.55h-9.9M1313 1754.28h-9.9M1313 1744.75h-9.9M1313 1736.5h-9.9M1313 1729.21h-9.9M1313 1679.85h-9.9M1313 1654.78h-9.9M1313 1637h-9.9M1313 1623.2h-9.9M1313 1611.93h-9.9M1313 1602.4h-9.9M1313 1594.15h-9.9M1313 1586.86h-9.9M1313 1537.5h-9.9M1313 1512.43h-9.9M1313 1494.65h-9.9M1313 1480.85h-9.9M1313 1469.58h-9.9M1313 1460.05h-9.9M1313 1451.8h-9.9M1313 1444.51h-9.9M1313 1395.15h-9.9M1313 1370.08h-9.9M1313 1352.3h-9.9M1313 1338.5h-9.9M1313 1327.23h-9.9M1313 1317.7h-9.9M1313 1309.45h-9.9M1313 1302.16h-9.9M1313 1252.8h-9.9M1313 1227.73h-9.9M1313 1209.95h-9.9M1313 1196.15h-9.9M1313 1184.88h-9.9M1313 1175.35h-9.9M1313 1167.1h-9.9M1313 1159.81h-9.9" stroke="#000" stroke-width="3.18" fill="none"/>
<polyline points="1353,1500.82 1442.5,1530.77 1532,1541.49 1621.5,1547.55 1711,1551.88 1800.5,1551.68 1890,1551.68 1979.5,1551.68 2069,1551.68 2158.5,1551.68" fill="none" stroke="#ff0000" stroke-width="10.6" stroke-linejoin="round" stroke-linecap="square" clip-path="url(#cd)"/>
<g clip-path="url(#cd)">
<polygon points="1337.1,1500.82 1368.9,1484.92 1368.9,1516.72" fill="#ff0000" stroke="#ff0000" stroke-width="5.3" stroke-linejoin="miter" stroke-miterlimit="10"/>
<polygon points="1426.6,1530.77 1458.4,1514.87 1458.4,1546.67" fill="#ff0000" stroke="#ff0000" stroke-width="5.3" stroke-linejoin="miter" stroke-miterlimit="10"/>
<polygon points="1516.1,1541.49 1547.9,1525.59 1547.9,1557.39" fill="#ff0000" stroke="#ff0000" stroke-width="5.3" stroke-linejoin="miter" stroke-miterlimit="10"/>
<polygon points="1605.6,1547.55 1637.4,1531.65 1637.4,1563.45" fill="#ff0000" stroke="#ff0000" stroke-width="5.3" stroke-linejoin="miter" stroke-miterlimit="10"/>
<polygon points="1695.1,1551.88 1726.9,1535.98 1726.9,1567.78" fill="#ff0000" stroke="#ff0000" stroke-width="5.3" stroke-linejoin="miter" stroke-miterlimit="10"/>
<polygon points="1784.6,1551.68 1816.4,1535.78 1816.4,1567.58" fill="#ff0000" stroke="#ff0000" stroke-width="5.3" stroke-linejoin="miter" stroke-miterlimit="10"/>
<polygon points="1874.1,1551.68 1905.9,1535.78 1905.9,1567.58" fill="#ff0000" stroke="#ff0000" stroke-width="5.3" stroke-linejoin="miter" stroke-miterlimit="10"/>
<polygon points="1963.6,1551.68 1995.4,1535.78 1995.4,1567.58" fill="#ff0000" stroke="#ff0000" stroke-width="5.3" stroke-linejoin="miter" stroke-miterlimit="10"/>
<polygon points="2053.1,1551.68 2084.9,1535.78 2084.9,1567.58" fill="#ff0000" stroke="#ff0000" stroke-width="5.3" stroke-linejoin="miter" stroke-miterlimit="10"/>
<polygon points="2142.6,1551.68 2174.4,1535.78 2174.4,1567.58" fill="#ff0000" stroke="#ff0000" stroke-width="5.3" stroke-linejoin="miter" stroke-miterlimit="10"/>
</g>
<polyline points="1353,1278.96 1442.5,1261.76 1532,1246.63 1621.5,1254.36 1711,1257.95 1800.5,1275.29 1890,1282.6 1979.5,1293.23 2069,1298.11 2158.5,1296.27" fill="none" stroke="#0000ff" stroke-width="10.6" stroke-linejoin="round" stroke-linecap="butt" stroke-dasharray="39.3,17" clip-path="url(#cd)"/>
<g clip-path="url(#cd)">
<circle cx="1353" cy="1278.96" r="15.9" fill="#0000ff" stroke="#0000ff" stroke-width="5.3"/>
<circle cx="1442.5" cy="1261.76" r="15.9" fill="#0000ff" stroke="#0000ff" stroke-width="5.3"/>
<circle cx="1532" cy="1246.63" r="15.9" fill="#0000ff" stroke="#0000ff" stroke-width="5.3"/>
<circle cx="1621.5" cy="1254.36" r="15.9" fill="#0000ff" stroke="#0000ff" stroke-width="5.3"/>
<circle cx="1711" cy="1257.95" r="15.9" fill="#0000ff" stroke="#0000ff" stroke-width="5.3"/>
<circle cx="1800.5" cy="1275.29" r="15.9" fill="#0000ff" stroke="#0000ff" stroke-width="5.3"/>
<circle cx="1890" cy="1282.6" r="15.9" fill="#0000ff" stroke="#0000ff" stroke-width="5.3"/>
<circle cx="1979.5" cy="1293.23" r="15.9" fill="#0000ff" stroke="#0000ff" stroke-width="5.3"/>
<circle cx="2069" cy="1298.11" r="15.9" fill="#0000ff" stroke="#0000ff" stroke-width="5.3"/>
<circle cx="2158.5" cy="1296.27" r="15.9" fill="#0000ff" stroke="#0000ff" stroke-width="5.3"/>
</g>
<polyline points="1353,1205.76 1442.5,1280.87 1532,1533.9 1621.5,1547.29 1711,1551.88 1800.5,1551.68 1890,1551.68 1979.5,1551.68 2069,1551.68 2158.5,1551.68" fill="none" stroke="#ff00ff" stroke-width="10.6" stroke-linejoin="round" stroke-linecap="butt" stroke-dasharray="67.84,16.99,10.6,16.99" clip-path="url(#cd)"/>
<g clip-path="url(#cd)">
<path d="M1336.62 1189.39L1369.38 1222.14M1336.62 1222.14L1369.38 1189.39" stroke="#ff00ff" stroke-width="5.3" stroke-linecap="butt" fill="none"/>
<path d="M1426.12 1264.5L1458.88 1297.25M1426.12 1297.25L1458.88 1264.5" stroke="#ff00ff" stroke-width="5.3" stroke-linecap="butt" fill="none"/>
<path d="M1515.62 1517.52L1548.38 1550.27M1515.62 1550.27L1548.38 1517.52" stroke="#ff00ff" stroke-width="5.3" stroke-linecap="butt" fill="none"/>
<path d="M1605.12 1530.91L1637.88 1563.67M1605.12 1563.67L1637.88 1530.91" stroke="#ff00ff" stroke-width="5.3" stroke-linecap="butt" fill="none"/>
<path d="M1694.62 1535.5L1727.38 1568.25M1694.62 1568.25L1727.38 1535.5" stroke="#ff00ff" stroke-width="5.3" stroke-linecap="butt" fill="none"/>
<path d="M1784.12 1535.3L1816.88 1568.06M1784.12 1568.06L1816.88 1535.3" stroke="#ff00ff" stroke-width="5.3" stroke-linecap="butt" fill="none"/>
<path d="M1873.62 1535.3L1906.38 1568.06M1873.62 1568.06L1906.38 1535.3" stroke="#ff00ff" stroke-width="5.3" stroke-linecap="butt" fill="none"/>
<path d="M1963.12 1535.3L1995.88 1568.06M1963.12 1568.06L1995.88 1535.3" stroke="#ff00ff" stroke-width="5.3" stroke-linecap="butt" fill="none"/>
<path d="M2052.62 1535.3L2085.38 1568.06M2052.62 1568.06L2085.38 1535.3" stroke="#ff00ff" stroke-width="5.3" stroke-linecap="butt" fill="none"/>
<path d="M2142.12 1535.3L2174.88 1568.06M2142.12 1568.06L2174.88 1535.3" stroke="#ff00ff" stroke-width="5.3" stroke-linecap="butt" fill="none"/>
</g>
<polyline points="1353,1202.39 1442.5,1202.39 1532,1202.39 1621.5,1202.39 1711,1202.39 1800.5,1202.39 1890,1202.39 1979.5,1551.68 2069,1551.68 2158.5,1551.68" fill="none" stroke="#008000" stroke-width="10.6" stroke-linejoin="round" stroke-linecap="butt" stroke-dasharray="10.6,17.51" clip-path="url(#cd)"/>
<g clip-path="url(#cd)">
<polygon points="1368.9,1202.39 1337.1,1186.49 1337.1,1218.29" fill="#008000" stroke="#008000" stroke-width="5.3" stroke-linejoin="miter" stroke-miterlimit="10"/>
<polygon points="1458.4,1202.39 1426.6,1186.49 1426.6,1218.29" fill="#008000" stroke="#008000" stroke-width="5.3" stroke-linejoin="miter" stroke-miterlimit="10"/>
<polygon points="1547.9,1202.39 1516.1,1186.49 1516.1,1218.29" fill="#008000" stroke="#008000" stroke-width="5.3" stroke-linejoin="miter" stroke-miterlimit="10"/>
<polygon points="1637.4,1202.39 1605.6,1186.49 1605.6,1218.29" fill="#008000" stroke="#008000" stroke-width="5.3" stroke-linejoin="miter" stroke-miterlimit="10"/>
<polygon points="1726.9,1202.39 1695.1,1186.49 1695.1,1218.29" fill="#008000" stroke="#008000" stroke-width="5.3" stroke-linejoin="miter" stroke-miterlimit="10"/>
<polygon points="1816.4,1202.39 1784.6,1186.49 1784.6,1218.29" fill="#008000" stroke="#008000" stroke-width="5.3" stroke-linejoin="miter" stroke-miterlimit="10"/>
<polygon points="1905.9,1202.39 1874.1,1186.49 1874.1,1218.29" fill="#008000" stroke="#008000" stroke-width="5.3" stroke-linejoin="miter" stroke-miterlimit="10"/>
<polygon points="1995.4,1551.68 1963.6,1535.78 1963.6,1567.58" fill="#008000" stroke="#008000" stroke-width="5.3" stroke-linejoin="miter" stroke-miterlimit="10"/>
<polygon points="2084.9,1551.68 2053.1,1535.78 2053.1,1567.58" fill="#008000" stroke="#008000" stroke-width="5.3" stroke-linejoin="miter" stroke-miterlimit="10"/>
<polygon points="2174.4,1551.68 2142.6,1535.78 2142.6,1567.58" fill="#008000" stroke="#008000" stroke-width="5.3" stroke-linejoin="miter" stroke-miterlimit="10"/>
</g>
<polyline points="1353,1528.11 1442.5,1542.34 1532,1556.58 1621.5,1570.81 1711,1585.05 1800.5,1599.28 1890,1613.52 1979.5,1627.75 2069,1641.99 2158.5,1656.22" fill="none" stroke="#000000" stroke-width="10.6" stroke-linejoin="round" stroke-linecap="square" clip-path="url(#cd)"/>
<g clip-path="url(#cd)">
<circle cx="1353" cy="1528.11" r="7.95" fill="#000000" stroke="#000000" stroke-width="5.3"/>
<circle cx="1442.5" cy="1542.34" r="7.95" fill="#000000" stroke="#000000" stroke-width="5.3"/>
<circle cx="1532" cy="1556.58" r="7.95" fill="#000000" stroke="#000000" stroke-width="5.3"/>
<circle cx="1621.5" cy="1570.81" r="7.95" fill="#000000" stroke="#000000" stroke-width="5.3"/>
<circle cx="1711" cy="1585.05" r="7.95" fill="#000000" stroke="#000000" stroke-width="5.3"/>
<circle cx="1800.5" cy="1599.28" r="7.95" fill="#000000" stroke="#000000" stroke-width="5.3"/>
<circle cx="1890" cy="1613.52" r="7.95" fill="#000000" stroke="#000000" stroke-width="5.3"/>
<circle cx="1979.5" cy="1627.75" r="7.95" fill="#000000" stroke="#000000" stroke-width="5.3"/>
<circle cx="2069" cy="1641.99" r="7.95" fill="#000000" stroke="#000000" stroke-width="5.3"/>
<circle cx="2158.5" cy="1656.22" r="7.95" fill="#000000" stroke="#000000" stroke-width="5.3"/>
</g>
<rect x="1313" y="1153.55" width="885.5" height="853.95" fill="none" stroke="#000" stroke-width="4.24" stroke-linejoin="miter"/>
<text x="1353" y="2078.1" font-size="47.7" text-anchor="middle">-12</text>
<text x="1442.5" y="2078.1" font-size="47.7" text-anchor="middle">-10</text>
<text x="1532" y="2078.1" font-size="47.7" text-anchor="middle">-8</text>
<text x="1621.5" y="2078.1" font-size="47.7" text-anchor="middle">-6</text>
<text x="1711" y="2078.1" font-size="47.7" text-anchor="middle">-4</text>
<text x="1800.5" y="2078.1" font-size="47.7" text-anchor="middle">-2</text>
<text x="1890" y="2078.1" font-size="47.7" text-anchor="middle">0</text>
<text x="1979.5" y="2078.1" font-size="47.7" text-anchor="middle">2</text>
<text x="2069" y="2078.1" font-size="47.7" text-anchor="middle">4</text>
<text x="2158.5" y="2078.1" font-size="47.7" text-anchor="middle">6</text>
<text x="1194.03" y="2029.2" font-size="47.7">10</text>
<text x="1239.33" y="2002.6" font-size="39.6">−</text>
<text x="1258.53" y="2000.4" font-size="33.39">4</text>
<text x="1194.81" y="1886.85" font-size="47.7">10</text>
<text x="1240.11" y="1860.25" font-size="39.6">−</text>
<text x="1259.31" y="1858.05" font-size="33.39">3</text>
<text x="1195.35" y="1744.5" font-size="47.7">10</text>
<text x="1240.65" y="1717.9" font-size="39.6">−</text>
<text x="1259.85" y="1715.7" font-size="33.39">2</text>
<text x="1195.51" y="1602.15" font-size="47.7">10</text>
<text x="1240.81" y="1575.55" font-size="39.6">−</text>
<text x="1260.01" y="1573.35" font-size="33.39">1</text>
<text x="1213.08" y="1459.8" font-size="47.7">10</text>
<text x="1259.28" y="1431" font-size="33.39">0</text>
<text x="1213.81" y="1317.45" font-size="47.7">10</text>
<text x="1260.01" y="1288.65" font-size="33.39">1</text>
<text x="1213.65" y="1175.1" font-size="47.7">10</text>
<text x="1259.85" y="1146.3" font-size="33.39">2</text>
<text x="1755.75" y="2143.2" font-size="47.7" text-anchor="middle">SNR/dB</text>
<text x="1755.75" y="2192.8" font-size="47.7" text-anchor="middle">(d)</text>
<text x="1158.9" y="1581.93" font-size="47.7" text-anchor="middle" transform="rotate(-90 1158.9 1581.93)">RMSE/°</text>
<rect x="1335.9" y="1668.5" width="454.2" height="316.2" rx="8.48" ry="8.48" fill="#fff" fill-opacity="0.45" stroke="#ccc" stroke-opacity="0.45" stroke-width="5.3"/>
<polyline points="1352.86,1700.1 1437.66,1700.1" fill="none" stroke="#ff0000" stroke-width="10.6" stroke-linejoin="round" stroke-linecap="square"/>
<polygon points="1379.36,1700.1 1411.16,1684.2 1411.16,1716" fill="#ff0000" stroke="#ff0000" stroke-width="5.3" stroke-linejoin="miter" stroke-miterlimit="10"/>
<text x="1471.58" y="1713.9" font-size="42.4" text-anchor="start">DNN-C</text>
<polyline points="1352.86,1761.5 1437.66,1761.5" fill="none" stroke="#0000ff" stroke-width="10.6" stroke-linejoin="round" stroke-linecap="butt" stroke-dasharray="39.3,17"/>
<circle cx="1395.26" cy="1761.5" r="15.9" fill="#0000ff" stroke="#0000ff" stroke-width="5.3"/>
<text x="1471.58" y="1775.3" font-size="42.4" text-anchor="start">MDL-MUSIC</text>
<polyline points="1352.86,1822.9 1437.66,1822.9" fill="none" stroke="#ff00ff" stroke-width="10.6" stroke-linejoin="round" stroke-linecap="butt" stroke-dasharray="67.84,16.99,10.6,16.99"/>
<path d="M1378.88 1806.52L1411.64 1839.28M1378.88 1839.28L1411.64 1806.52" stroke="#ff00ff" stroke-width="5.3" stroke-linecap="butt" fill="none"/>
<text x="1471.58" y="1836.7" font-size="42.4" text-anchor="start">NUMDL-MUSIC</text>
<polyline points="1352.86,1884.3 1437.66,1884.3" fill="none" stroke="#008000" stroke-width="10.6" stroke-linejoin="round" stroke-linecap="butt" stroke-dasharray="10.6,17.51"/>
<polygon points="1411.16,1884.3 1379.36,1868.4 1379.36,1900.2" fill="#008000" stroke="#008000" stroke-width="5.3" stroke-linejoin="miter" stroke-miterlimit="10"/>
<text x="1471.58" y="1898.1" font-size="42.4" text-anchor="start">SSM-MUSIC</text>
<polyline points="1352.86,1945.7 1437.66,1945.7" fill="none" stroke="#000000" stroke-width="10.6" stroke-linejoin="round" stroke-linecap="square"/>
<circle cx="1395.26" cy="1945.7" r="7.95" fill="#000000" stroke="#000000" stroke-width="5.3"/>
<text x="1471.58" y="1959.5" font-size="42.4" text-anchor="start">CRB</text>
</svg>
</body></html>
